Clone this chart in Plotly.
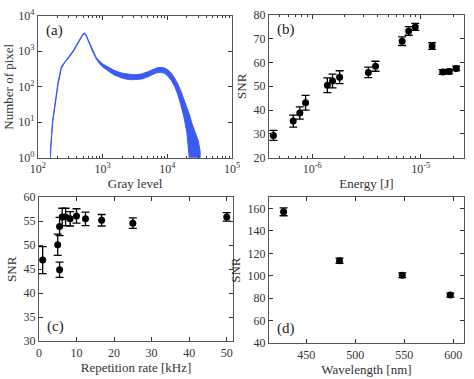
import plotly.graph_objects as go

# ---------------- data ----------------
# (a) histogram band (upper / lower envelope)
gray_level = [155, 160, 168, 185, 205, 230, 260, 300, 350, 400, 450, 490, 520, 550, 600, 650, 720, 800,
              900, 1000, 1200, 1500, 2000, 2500, 3000, 3500, 4000, 5000, 6000, 7000, 8000, 9000, 10000,
              11500, 13000, 14500, 16000, 18000, 20000, 22000, 24000, 26000, 28000, 30000, 32000]
count_lower = [0.8, 2.7, 9, 32, 120, 330, 480, 650, 960, 1450, 2130, 2800, 3050, 2800, 1930, 1340, 860, 590,
               440, 360, 280, 215, 175, 160, 158, 160, 165, 190, 225, 250, 255, 240, 205,
               150, 100, 60, 32, 14, 5, 0.8, 0.8, 0.8, 0.8, 0.8, 0.8]
count_upper = [1.3, 3.3, 11, 38, 140, 370, 520, 710, 1040, 1560, 2280, 3000, 3260, 3000, 2070, 1460, 940, 650,
               520, 440, 365, 290, 240, 225, 218, 220, 230, 265, 310, 345, 350, 335, 305,
               240, 170, 120, 78, 45, 28, 16, 9, 6, 4, 3, 1.5]

# (b) SNR vs energy
energy_J = [4.4e-7, 6.7e-7, 7.7e-7, 8.7e-7, 1.38e-6, 1.54e-6, 1.79e-6, 3.29e-6, 3.83e-6,
            6.73e-6, 7.73e-6, 8.89e-6, 1.27e-5, 1.59e-5, 1.82e-5, 2.12e-5]
snr_b = [29.4, 35.4, 38.8, 43.1, 50.4, 52.2, 53.8, 55.8, 58.4, 68.9, 73.2, 74.9, 66.9, 56.0, 56.2, 57.5]
err_b = [2.1, 2.5, 2.6, 3.1, 3.1, 2.9, 2.7, 2.2, 2.1, 1.8, 1.8, 1.5, 1.4, 1.0, 1.0, 0.9]

# (c) SNR vs repetition rate
rep_rate_khz = [1, 5, 5.5, 5.5, 6.2, 7.1, 8.3, 10, 12.4, 16.7, 25, 50]
snr_c = [46.9, 50.1, 44.9, 53.9, 55.9, 55.9, 55.5, 56.1, 55.5, 55.2, 54.6, 55.9]
err_c = [2.8, 2.2, 1.6, 1.9, 1.8, 1.8, 1.5, 1.5, 1.4, 1.2, 1.1, 0.9]

# (d) SNR vs wavelength
wavelength_nm = [427, 484, 548, 597]
snr_d = [157, 113.5, 100.5, 82.8]
err_d = [3.5, 2.3, 2.1, 1.7]

# tick labels
a_xticks = [1e2, 1e3, 1e4, 1e5]
a_xtext = ["10<sup>2</sup>", "10<sup>3</sup>", "10<sup>4</sup>", "10<sup>5</sup>"]
a_yticks = [1, 10, 100, 1000, 10000]
a_ytext = ["10<sup>0</sup>", "10<sup>1</sup>", "10<sup>2</sup>", "10<sup>3</sup>", "10<sup>4</sup>"]
b_xticks = [1e-6, 1e-5]
b_xtext = ["10<sup>-6</sup>", "10<sup>-5</sup>"]

# ---------------- figure ----------------
FONT = "Liberation Serif"
TXT = "#333333"
BLUE = "#3a5cf5"

fig = go.Figure()

fig.add_trace(go.Scatter(
    x=gray_level + gray_level[::-1],
    y=count_upper + count_lower[::-1],
    fill="toself", fillcolor=BLUE, line=dict(color=BLUE, width=1),
    mode="lines", xaxis="x", yaxis="y", showlegend=False))

marker = dict(color="black", size=7)
def err(arr):
    return dict(type="data", array=arr, color="black", thickness=1.3, width=4)

fig.add_trace(go.Scatter(x=energy_J, y=snr_b, mode="markers", marker=marker,
                         error_y=err(err_b), xaxis="x2", yaxis="y2", showlegend=False))
fig.add_trace(go.Scatter(x=rep_rate_khz, y=snr_c, mode="markers", marker=marker,
                         error_y=err(err_c), xaxis="x3", yaxis="y3", showlegend=False))
fig.add_trace(go.Scatter(x=wavelength_nm, y=snr_d, mode="markers", marker=marker,
                         error_y=err(err_d), xaxis="x4", yaxis="y4", showlegend=False))

W, H = 474, 379
def dx(a, b):
    return [a / W, b / W]
def dy(top, bot):
    return [1 - bot / H, 1 - top / H]

common = dict(showline=True, linecolor="#555555", linewidth=1, mirror="ticks",
              ticks="inside", ticklen=4, tickcolor="#333333", showgrid=False, zeroline=False,
              tickfont=dict(family=FONT, size=12, color=TXT),
              title_font=dict(family=FONT, size=13, color=TXT))

minor_log = dict(ticks="inside", ticklen=2, tickcolor="#333333", showgrid=False)

a_minor = [m * 10 ** e for e in (2, 3, 4) for m in range(2, 10)]
b_minor = [m * 10 ** e for e in (-7, -6, -5) for m in range(2, 10)]

fig.update_layout(
    width=W, height=H, margin=dict(l=0, r=0, t=0, b=0),
    paper_bgcolor="white", plot_bgcolor="white",
    font=dict(family=FONT, color=TXT),
    xaxis=dict(common, type="log", domain=dx(31, 232), range=[2, 5], anchor="y",
               tickmode="array", tickvals=a_xticks, ticktext=a_xtext,
               minor=dict(minor_log, tickmode="array", tickvals=a_minor),
               title=dict(text="Gray level", standoff=3)),
    yaxis=dict(common, type="log", domain=dy(8, 156), range=[0, 4], anchor="x",
               tickmode="array", tickvals=a_yticks, ticktext=a_ytext,
               title=dict(text="Number of pixel", standoff=1)),
    xaxis2=dict(common, type="log", domain=dx(270, 472), range=[-6.398, -4.602], anchor="y2",
                tickmode="array", tickvals=b_xticks, ticktext=b_xtext,
                minor=dict(minor_log, tickmode="array", tickvals=b_minor),
                title=dict(text="Energy [J]", standoff=3)),
    yaxis2=dict(common, domain=dy(7, 156), range=[20, 80], dtick=10, anchor="x2",
                title=dict(text="SNR", standoff=3)),
    xaxis3=dict(common, domain=dx(32, 233), range=[0, 51.7], dtick=10, anchor="y3",
                title=dict(text="Repetition rate [kHz]", standoff=3)),
    yaxis3=dict(common, domain=dy(197, 347), range=[30, 60], dtick=5, anchor="x3",
                title=dict(text="SNR", standoff=3)),
    xaxis4=dict(common, domain=dx(270, 472), range=[412, 611], dtick=50, anchor="y4",
                title=dict(text="Wavelength [nm]", standoff=3)),
    yaxis4=dict(common, domain=dy(197, 349), range=[40, 170], dtick=20, anchor="x4",
                title=dict(text="SNR", standoff=3)),
)

labels = [("(a)", "x domain", "y domain", 0.03, 0.97, "top"),
          ("(b)", "x2 domain", "y2 domain", 0.03, 0.97, "top"),
          ("(c)", "x3 domain", "y3 domain", 0.03, 0.03, "bottom"),
          ("(d)", "x4 domain", "y4 domain", 0.03, 0.03, "bottom")]
for t, xr, yr, xx, yy, ya in labels:
    fig.add_annotation(text=t, xref=xr, yref=yr, x=xx, y=yy, xanchor="left", yanchor=ya,
                       showarrow=False, font=dict(family=FONT, size=15, color="#222222"))

fig.write_html("out.html", config={"displayModeBar": False},
               post_script="document.body.style.margin='0';document.body.style.overflow='hidden';")
